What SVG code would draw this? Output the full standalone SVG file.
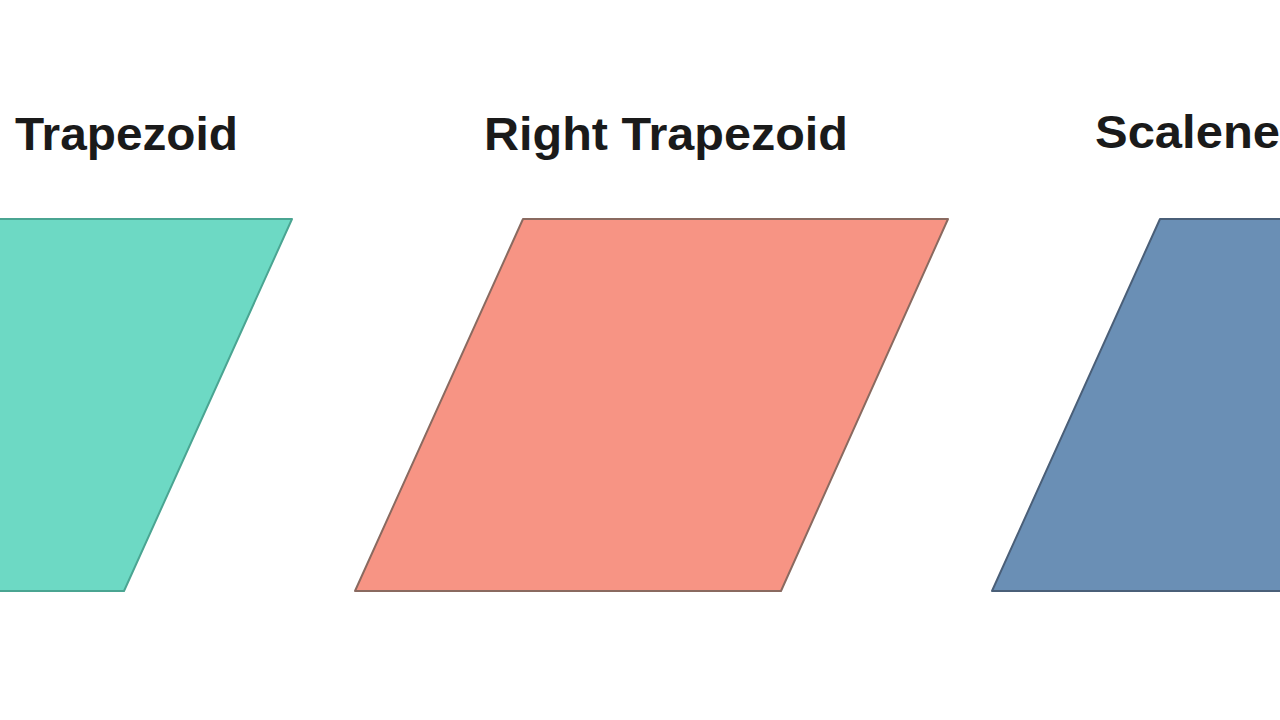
<svg xmlns="http://www.w3.org/2000/svg" width="1280" height="720" viewBox="0 0 1280 720">
<style>
.lbl{font-family:"Liberation Sans",Arial,sans-serif;font-weight:bold;font-size:46px;fill:#1a1a1a}
.shape{stroke-width:2;stroke-linejoin:round}
</style>
<rect width="1280" height="720" fill="#ffffff"/>
<g id="trapezoid">
<polygon class="shape" points="-200,219 292,219 124,591 -200,591" fill="#6dd9c4" stroke="#4aa592"/>
<text class="lbl" x="15" y="150" textLength="223" lengthAdjust="spacingAndGlyphs">Trapezoid</text>
</g>
<g id="right-trapezoid">
<polygon class="shape" points="523,219 948,219 781,591 355,591" fill="#f79484" stroke="#8a6a60"/>
<text class="lbl" x="484" y="150" textLength="364" lengthAdjust="spacingAndGlyphs">Right Trapezoid</text>
</g>
<g id="scalene">
<polygon class="shape" points="1160,219 1400,219 1400,591 992,591" fill="#6a8fb5" stroke="#4a5f78"/>
<text class="lbl" x="1095" y="148" textLength="185" lengthAdjust="spacingAndGlyphs">Scalene</text>
</g>
<g id="connectors"></g>
</svg>
